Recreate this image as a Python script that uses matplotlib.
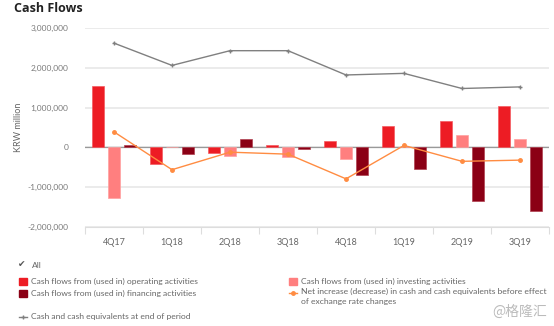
import matplotlib
matplotlib.use("Agg")
import matplotlib.pyplot as plt
import numpy as np
from matplotlib.lines import Line2D
from matplotlib.patches import Rectangle

quarters = ["4Q17", "1Q18", "2Q18", "3Q18", "4Q18", "1Q19", "2Q19", "3Q19"]
operating = [1550000, -420000, -130000, 50000, 170000, 530000, 670000, 1030000]
investing = [-1260000, 0, -220000, -250000, -290000, 0, 300000, 200000]
financing = [50000, -170000, 210000, -50000, -690000, -540000, -1340000, -1590000]
net_change = [390000, -560000, -120000, -170000, -790000, 50000, -350000, -320000]
cash_end = [2620000, 2060000, 2430000, 2430000, 1820000, 1860000, 1480000, 1520000]
yticks = [-2000000, -1000000, 0, 1000000, 2000000, 3000000]

C_OP = "#ED1C24"
C_INV = "#FF7F7F"
C_FIN = "#8B0015"
C_NET = "#FF8C42"
C_CASH = "#808080"
TXT = "#666666"

plt.rcParams["font.family"] = ["Lato", "DejaVu Sans"]

W, H = 554, 326
fig = plt.figure(figsize=(W / 100, H / 100), dpi=100)
ax = fig.add_axes([85 / W, 1 - 227 / H, 464 / W, 199 / H])

x = np.arange(len(quarters))
bw = 0.21
off = 0.27
ax.bar(x - off, operating, bw, color=C_OP, edgecolor="#F45A60", linewidth=0.5, zorder=3)
ax.bar(x, investing, bw, color=C_INV, edgecolor="#FFA0A0", linewidth=0.5, zorder=3)
ax.bar(x + off, financing, bw, color=C_FIN, edgecolor="#B04050", linewidth=0.5, zorder=3)
ax.plot(x, net_change, color=C_NET, lw=1, marker="o", ms=2.5, zorder=4)
ax.plot(x, cash_end, color=C_CASH, lw=1, marker="+", ms=3.5, mew=1, zorder=4)

ax.set_xlim(-0.5, len(quarters) - 0.5)
ax.set_ylim(-2000000, 3000000)
ax.set_yticks(yticks)
ax.set_yticklabels([f"{v:,}" for v in yticks], color="#7A7A7A", fontsize=6)
ax.set_xticks(np.arange(len(quarters) + 1) - 0.5, minor=False)
ax.set_xticklabels([])
ax.set_xticks(x, minor=True)
ax.set_xticklabels(quarters, minor=True, color=TXT, fontsize=6.5)
ax.tick_params(axis="x", which="major", length=5, color="#DDDDDD", width=0.8)
ax.tick_params(axis="x", which="minor", length=0, pad=8)
ax.tick_params(axis="y", length=0, pad=12)
ax.grid(axis="y", color="#E8E8E8", lw=1.2, zorder=0)
ax.axhline(0, color="#999999", lw=0.9, zorder=2)
for s in ["top", "right", "left"]:
    ax.spines[s].set_visible(False)
ax.spines["bottom"].set_color("#DDDDDD")
ax.spines["bottom"].set_linewidth(0.8)
ax.set_ylabel("KRW million", color=TXT, fontsize=6.5, labelpad=3)

fig.text(14 / W, 1 - 8 / H, "Cash Flows", fontsize=9, fontweight="bold",
         family=["Open Sans", "DejaVu Sans"], va="center", ha="left", color="#222222")

# legend drawn in pixel space
lax = fig.add_axes([0, 0, 1, 1])
lax.set_xlim(0, W)
lax.set_ylim(H, 0)
lax.axis("off")
fs = 6.1
lax.text(18, 264, "\u2714", family="DejaVu Sans", fontsize=6.5, color="#555555", va="center")
lax.text(32, 265, "All", fontsize=fs, color=TXT, va="center")
items = [
    (19, 281, "sq", C_OP, "Cash flows from (used in) operating activities"),
    (19, 293, "sq", C_FIN, "Cash flows from (used in) financing activities"),
    (289, 281, "sq", C_INV, "Cash flows from (used in) investing activities"),
    (289, 293, "ln", C_NET, "Net increase (decrease) in cash and cash equivalents before effect\nof exchange rate changes"),
    (19, 317, "ln", C_CASH, "Cash and cash equivalents at end of period"),
]
for px, py, kind, col, label in items:
    if kind == "sq":
        lax.add_patch(Rectangle((px, py - 3.5), 8, 7, color=col))
    else:
        lax.add_line(Line2D([px, px + 8], [py, py], color=col, lw=1))
        lax.plot(px + 4, py, marker="o" if col == C_NET else "+", color=col, ms=2.5)
    if "\n" in label:
        lax.text(px + 12, py - 5, label, fontsize=fs, color=TXT, va="top", linespacing=1.45)
    else:
        lax.text(px + 12, py, label, fontsize=fs, color=TXT, va="center")

lax.text(547, 312, "@格隆汇", family=["Noto Sans CJK SC", "DejaVu Sans"], fontsize=10,
         color="#BBBBBB", ha="right", va="center")

fig.savefig("out.png", dpi=100)
